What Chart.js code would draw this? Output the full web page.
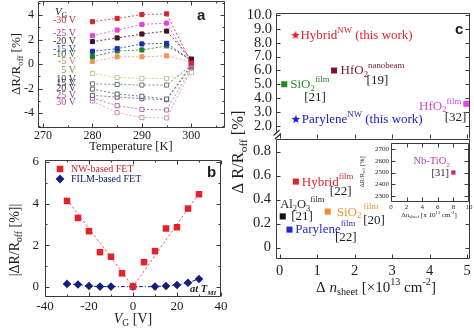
<!DOCTYPE html>
<html>
<head>
<meta charset="utf-8">
<script src="https://cdn.jsdelivr.net/npm/chart.js@4.4.1/dist/chart.umd.min.js"></script>
<style>
  html, body { margin: 0; padding: 0; background: #fff; }
  #wrap { position: relative; width: 474px; height: 333px; overflow: hidden; background: #fff; }
  canvas { position: absolute; }
</style>
</head>
<body>
<div id="wrap">
  <canvas id="ca" width="240" height="172" style="left:0px;top:-12px"></canvas>
  <canvas id="cb" width="240" height="188" style="left:0px;top:145px"></canvas>
  <canvas id="cu" width="244" height="153" style="left:230px;top:0px"></canvas>
  <canvas id="cl" width="244" height="333" style="left:230px;top:0px"></canvas>
  <canvas id="ci" width="124" height="95" style="left:350px;top:135px"></canvas>
</div>
<script>
'use strict';

// DATA

// panel a : dR/Roff [%] vs temperature, one list per gate voltage
const tempK = [280, 285, 290, 295, 300];
const gateNames = ['-30 V', '-25 V', '-20 V', '-15 V', '-10 V', '-5 V', '5 V', '10 V', '15 V', '20 V', '25 V', '30 V'];
const drM30 = [3.46, 3.73, 4.05, 4.10, 0.10];
const drM25 = [2.32, 2.78, 3.24, 3.35, 0.00];
const drM20 = [1.84, 2.14, 2.46, 2.70, 0.42];
const drM15 = [1.05, 1.27, 1.65, 1.70, 0.30];
const drM10 = [0.62, 1.08, 1.16, 1.49, 0.35];
const drM05 = [0.22, 0.60, 0.60, 0.68, 0.20];
const drP05 = [-0.76, -1.08, -1.16, -1.16, -0.68];
const drP10 = [-1.60, -1.65, -1.70, -1.70, -0.10];
const drP15 = [-2.03, -2.43, -2.62, -2.84, -0.05];
const drP20 = [-2.54, -2.68, -2.81, -2.89, -0.20];
const drP25 = [-2.76, -3.38, -3.68, -3.73, -0.30];
const drP30 = [-3.00, -3.95, -4.35, -4.38, -0.45];
const aXTicks = [270, 280, 290, 300];
const aYTicks = [-4, -2, 0, 2, 4];

// panel b : |dR/Roff| vs gate voltage
const vgB = [-30, -25, -20, -15, -10, -5, 0, 5, 10, 15, 20, 25, 30];
const nwFet = [4.13, 3.31, 2.67, 1.66, 1.44, 0.64, 0, 1.18, 1.71, 2.80, 2.86, 3.76, 4.45];
const filmFet = [0.13, 0.10, 0.03, 0, 0, null, 0, null, 0, 0.03, 0.08, 0.19, 0.37];
const nwFitX = [-30, 0, 30];
const nwFitY = [4.2, 0, 4.5];
const bXTicks = [-40, -20, 0, 20, 40];
const bYTicks = [0, 2, 4, 6];

// panel c : dR/Roff vs delta n_sheet (broken y axis + inset)
const upperNames = ['Hybrid NW', 'HfO2 nanobeam', 'SiO2 film', 'HfO2 film', 'Parylene NW'];
const upperDn = [0.42, 1.45, 0.12, 4.98, 0.43];
const upperDr = [8.56, 6.0, 5.0, 3.6, 2.5];
const lowerNames = ['Hybrid film', 'Al2O3 film', 'SiO2 film', 'Parylene film'];
const lowerDn = [0.43, 0.08, 1.28, 0.26];
const lowerDr = [0.55, 0.26, 0.30, 0.15];
const insetNames = ['Nb-TiO2'];
const insetDn = [8.0];
const insetDr = [2500];
const cXTicks = [0, 1, 2, 3, 4, 5];
const cUpperTicks = [2, 3, 4, 5, 6, 7, 8, 9, 10];
const cLowerTicks = [0, 0.2, 0.4, 0.6, 0.8];
const insetXTicks = [0, 2, 4, 6, 8, 10];
const insetYTicks = [2300, 2400, 2500, 2600, 2700];

// STYLE

const SERIF = '"Liberation Serif", "Times New Roman", serif';
const SANS = '"Liberation Sans", Arial, sans-serif';
const INK = '#1e1e1e';

const colorsA = ['#d8262c', '#e244dc', '#3e1426', '#1c2cb4', '#217c26', '#f2945e',
                 '#c9c48c', '#707070', '#586274', '#6c5272', '#aa6aaa', '#d48cc2'];
const labelColorsA = ['#b83048', '#a8348e', '#4a1c30', '#24349a', '#2e7e2e', '#d07450',
                      '#8a8640', '#444444', '#30386c', '#54345e', '#8a4a8a', '#b4489a'];
// where the gate labels of panel a sit (data units)
const gateLabelX = 276.7;
const gateLabelY = [3.55, 2.55, 1.84, 1.24, 0.76, 0.27, -0.52, -1.2, -1.6, -2.0, -2.58, -3.15];

const red = '#e3222a';
const navy = '#12207c';

function makeStar(color, r) {
  const c = document.createElement('canvas');
  const s = Math.ceil(r * 2) + 2;
  c.width = s; c.height = s;
  const g = c.getContext('2d');
  g.fillStyle = color;
  g.beginPath();
  for (let i = 0; i < 10; i++) {
    const ang = -Math.PI / 2 + i * Math.PI / 5;
    const rad = i % 2 ? r * 0.42 : r;
    const px = s / 2 + Math.cos(ang) * rad, py = s / 2 + 0.4 + Math.sin(ang) * rad;
    if (i === 0) g.moveTo(px, py); else g.lineTo(px, py);
  }
  g.closePath();
  g.fill();
  return c;
}

// text with sub/superscripts. flags: i italic, b bold, _ sub, ^ sup, S sans
function drawRich(ctx, parts, x, y, size, align, color) {
  const fontOf = f => {
    const small = f.includes('_') || f.includes('^');
    const s = small ? size * 0.68 : size;
    return (f.includes('i') ? 'italic ' : '') + (f.includes('b') ? 'bold ' : '') +
      s.toFixed(2) + 'px ' + (f.includes('S') ? SANS : SERIF);
  };
  let w = 0;
  for (const [t, f] of parts) { ctx.font = fontOf(f); w += ctx.measureText(t).width; }
  let cx = align === 'center' ? x - w / 2 : align === 'right' ? x - w : x;
  ctx.fillStyle = color;
  ctx.textAlign = 'left';
  ctx.textBaseline = 'middle';
  for (const [t, f] of parts) {
    ctx.font = fontOf(f);
    const dy = f.includes('_') ? size * 0.3 : f.includes('^') ? -size * 0.38 : 0;
    ctx.fillText(t, cx, y + dy);
    cx += ctx.measureText(t).width;
  }
}

function minorOf(arr) {
  const step = arr[1] - arr[0];
  const out = [arr[0] - step / 2];
  for (let i = 0; i < arr.length; i++) out.push(arr[i] + step / 2);
  return out;
}

function drawTicks(ctx, scale, vals, len, a, sides, isX) {
  for (const v of vals) {
    if (v < scale.min - 1e-9 || v > scale.max + 1e-9) continue;
    const p = Math.round(scale.getPixelForValue(v)) + 0.5;
    if (isX) {
      if (sides.includes('b')) { ctx.moveTo(p, a.bottom); ctx.lineTo(p, a.bottom - len); }
      if (sides.includes('t')) { ctx.moveTo(p, a.top); ctx.lineTo(p, a.top + len); }
    } else {
      if (sides.includes('l')) { ctx.moveTo(a.left, p); ctx.lineTo(a.left + len, p); }
      if (sides.includes('r')) { ctx.moveTo(a.right, p); ctx.lineTo(a.right - len, p); }
    }
  }
}

// frame, inward ticks, titles and labels for one chart
function deco(cfg) {
  return {
    id: 'deco',
    beforeDatasetsDraw(chart) {
      if (!cfg.whiteFill) return;
      const a = chart.chartArea, ctx = chart.ctx;
      ctx.save();
      ctx.fillStyle = '#fff';
      ctx.fillRect(a.left, a.top, a.right - a.left, a.bottom - a.top);
      ctx.restore();
    },
    afterDraw(chart) {
      const ctx = chart.ctx;
      const ca = chart.chartArea;
      const a = {
        left: Math.round(ca.left) + 0.5, right: Math.round(ca.right) - 0.5,
        top: Math.round(ca.top) + 0.5, bottom: Math.round(ca.bottom) - 0.5
      };
      const sx = chart.scales.x, sy = chart.scales.y;
      ctx.save();
      ctx.strokeStyle = '#3a3a3a';
      ctx.lineWidth = 1;
      ctx.beginPath();
      const sides = cfg.sides;
      const leftEnd = cfg.breakMark ? a.bottom - 7 : a.bottom;
      if (sides.includes('t')) { ctx.moveTo(a.left, a.top); ctx.lineTo(a.right, a.top); }
      if (sides.includes('b')) { ctx.moveTo(a.left, a.bottom); ctx.lineTo(a.right, a.bottom); }
      if (sides.includes('l')) { ctx.moveTo(a.left, a.top); ctx.lineTo(a.left, leftEnd); }
      if (sides.includes('r')) { ctx.moveTo(a.right, a.top); ctx.lineTo(a.right, a.bottom); }
      const t = cfg.ticks;
      drawTicks(ctx, sx, t.x, 4, a, t.xSides, true);
      drawTicks(ctx, sy, t.y, 4, a, t.ySides, false);
      if (t.xMinor) drawTicks(ctx, sx, minorOf(t.x), 2, a, t.xSides, true);
      if (t.yMinor) drawTicks(ctx, sy, minorOf(t.y), 2, a, t.ySides, false);
      ctx.stroke();
      if (cfg.breakMark) {
        ctx.beginPath();
        ctx.strokeStyle = '#222';
        ctx.lineWidth = 1.1;
        ctx.moveTo(a.left - 3, a.bottom - 3); ctx.lineTo(a.left + 3, a.bottom - 8.5);
        ctx.moveTo(a.left - 1.5, a.bottom + 0.5); ctx.lineTo(a.left + 4.5, a.bottom - 5);
        ctx.stroke();
      }

      (cfg.legend || []).forEach(l => {
        const x = l.x - cfg.ox, y = l.y - cfg.oy;
        ctx.fillStyle = l.color;
        ctx.beginPath();
        if (l.shape === 'rect') ctx.rect(x - 3.3, y - 3.3, 6.6, 6.6);
        else { ctx.moveTo(x, y - 4.4); ctx.lineTo(x + 4.4, y); ctx.lineTo(x, y + 4.4); ctx.lineTo(x - 4.4, y); ctx.closePath(); }
        ctx.fill();
      });

      (cfg.texts || []).forEach(tx => {
        const x = tx.x - cfg.ox, y = tx.y - cfg.oy;
        ctx.save();
        if (tx.rot) {
          ctx.translate(x, y);
          ctx.rotate(-Math.PI / 2);
          drawRich(ctx, tx.p, 0, 0, tx.size, 'center', tx.color || INK);
        } else {
          drawRich(ctx, tx.p, x, y, tx.size, tx.align || 'left', tx.color || INK);
        }
        ctx.restore();
      });

      (cfg.valTexts || []).forEach(tx => {
        drawRich(ctx, tx.p, sx.getPixelForValue(tx.vx), sy.getPixelForValue(tx.vy), tx.size, tx.align || 'left', tx.color || INK);
      });

      (cfg.pointTexts || []).forEach(tx => {
        const el = chart.getDatasetMeta(tx.ds).data[tx.i];
        drawRich(ctx, tx.p, el.x + tx.dx, el.y + tx.dy, tx.size, tx.align || 'left', tx.color || INK);
      });
      ctx.restore();
    }
  };
}

function axis(min, max, ticksArr, fmt, size, pad, fit, isX, showLabels) {
  return {
    type: 'linear',
    min: min,
    max: max,
    grid: { display: false, drawTicks: false },
    border: { display: false },
    ticks: {
      display: showLabels !== false,
      font: { family: SERIF, size: size },
      color: INK,
      padding: pad,
      maxRotation: 0,
      autoSkip: false,
      callback: v => fmt(v)
    },
    afterBuildTicks: s => { s.ticks = ticksArr.map(v => ({ value: v })); },
    afterFit: s => { if (isX) s.height = fit; else s.width = fit; }
  };
}

function makeChart(id, datasets, xAxis, yAxis, padding, cfg) {
  return new Chart(document.getElementById(id), {
    type: 'scatter',
    data: { datasets: datasets },
    options: {
      responsive: false,
      animation: false,
      devicePixelRatio: 1,
      events: [],
      layout: { padding: padding },
      plugins: { legend: { display: false }, tooltip: { enabled: false } },
      scales: { x: xAxis, y: yAxis }
    },
    plugins: [deco(cfg)]
  });
}

const asText = v => String(v);

// PANEL A
const seriesA = [drM30, drM25, drM20, drM15, drM10, drM05, drP05, drP10, drP15, drP20, drP25, drP30];
const dsA = seriesA.map((s, i) => ({
  label: gateNames[i],
  data: tempK.map((t, j) => ({ x: t, y: s[j] })),
  showLine: true,
  borderColor: colorsA[i],
  borderWidth: 0.8,
  borderDash: [2, 2],
  pointStyle: 'rect',
  pointRadius: 2.9,
  pointBorderWidth: 1,
  pointBackgroundColor: i < 6 ? colorsA[i] : '#ffffff',
  pointBorderColor: colorsA[i],
  clip: false
}));

makeChart('ca', dsA,
  axis(269, 306.8, aXTicks, asText, 12, 1, 32, true),
  axis(-5.2, 5.15, aYTicks, asText, 12, 4, 38, false),
  { top: 13, right: 15, left: 0, bottom: 0 },
  {
    ox: 0, oy: -12, sides: 'tblr',
    ticks: { x: aXTicks, y: aYTicks, xSides: 'bt', ySides: 'lr', xMinor: true, yMinor: true },
    texts: [
      { p: [['\u0394R/R', ''], ['off', '_'], [' [%]', '']], x: 17, y: 64, size: 13, rot: true },
      { p: [['Temperature [K]', '']], x: 131, y: 147, size: 12.5, align: 'center' },
      { p: [['a', 'bS']], x: 197, y: 16, size: 15 },
      { p: [['V', 'i'], ['G', '_']], x: 55, y: 12.5, size: 11 }
    ],
    valTexts: gateNames.map((g, i) => ({
      p: [[g, '']], vx: gateLabelX, vy: gateLabelY[i], size: 10, align: 'right', color: labelColorsA[i]
    }))
  });

// PANEL B
const dsB = [
  {
    label: 'NW-based FET',
    data: vgB.map((v, i) => ({ x: v, y: nwFet[i] })),
    pointStyle: 'rect', pointRadius: 4.6, pointBorderWidth: 0,
    pointBackgroundColor: red, showLine: false, clip: false
  },
  {
    label: 'FILM-based FET',
    data: vgB.map((v, i) => ({ x: v, y: filmFet[i] })),
    pointStyle: 'rectRot', pointRadius: 4.3, pointBorderWidth: 0,
    pointBackgroundColor: navy, showLine: true, spanGaps: true,
    borderColor: navy, borderWidth: 1, borderDash: [4, 2, 1, 2], clip: false
  },
  {
    label: 'NW fit',
    data: nwFitX.map((v, i) => ({ x: v, y: nwFitY[i] })),
    pointRadius: 0, showLine: true, borderColor: '#e05050', borderWidth: 0.9, borderDash: [2.5, 2], clip: false
  }
];

makeChart('cb', dsB,
  axis(-40, 40, bXTicks, asText, 13, 2, 36, true),
  axis(-0.5, 6.1, bYTicks, asText, 13, 6, 45, false),
  { top: 15, right: 19, left: 0, bottom: 0 },
  {
    ox: 0, oy: 145, sides: 'tblr',
    ticks: { x: bXTicks, y: bYTicks, xSides: 'bt', ySides: 'lr', xMinor: true, yMinor: true },
    legend: [
      { shape: 'rect', color: red, x: 60, y: 169 },
      { shape: 'diamond', color: navy, x: 60, y: 179 }
    ],
    texts: [
      { p: [['|\u0394R/R', ''], ['off', '_'], [' [%]|', '']], x: 15, y: 240, size: 14, rot: true },
      { p: [['V', 'i'], ['G', '_'], [' [V]', '']], x: 133, y: 319, size: 14, align: 'center' },
      { p: [['b', 'bS']], x: 207, y: 173, size: 15 },
      { p: [['at ', 'bi'], ['T', 'bi'], ['MI', 'bi_']], x: 190, y: 289.5, size: 10.5 },
      { p: [[dsB[0].label, '']], x: 71, y: 169.5, size: 10, color: '#c02a2a' },
      { p: [[dsB[1].label, '']], x: 71, y: 179.5, size: 10, color: navy }
    ]
  });

// PANEL C (upper part)
const starRed = makeStar(red, 4.6);
const starBlue = makeStar('#1c1cd6', 4.6);
const upperColors = [red, '#7a1632', '#1e8c1e', '#e244e2', '#1c1cd6'];

makeChart('cu', [{
    label: 'upper',
    data: upperDn.map((v, i) => ({ x: v, y: upperDr[i] })),
    pointStyle: [starRed, 'rect', 'rect', 'rect', starBlue],
    pointRadius: 4.3, pointBorderWidth: 0,
    pointBackgroundColor: upperColors, showLine: false, clip: 0
  }],
  axis(-0.1, 5.07, cXTicks, asText, 14.5, 3, 14, true, false),
  axis(1.06, 10.14, cUpperTicks, v => v.toFixed(1), 14.5, 4, 46, false),
  { top: 13, right: 4, left: 0, bottom: 0 },
  {
    ox: 230, oy: 0, sides: 'tlr', breakMark: true,
    ticks: { x: cXTicks, y: cUpperTicks, xSides: 'b', ySides: 'lr' },
    texts: [
      { p: [['c', 'bS']], x: 455, y: 29.5, size: 15 }
    ],
    pointTexts: [
      { ds: 0, i: 0, p: [['Hybrid', ''], ['NW', '^'], [' (this work)', '']], dx: 5, dy: 0.5, size: 13, color: red },
      { ds: 0, i: 1, p: [['HfO', ''], ['2', '_'], ['nanobeam', '^']], dx: 6.5, dy: 0.5, size: 13, color: '#7a1632' },
      { ds: 0, i: 1, p: [['[19]', '']], dx: 32.5, dy: 10, size: 13 },
      { ds: 0, i: 2, p: [['SiO', ''], ['2', '_'], ['film', '^']], dx: 6, dy: 0.5, size: 13, color: '#2a8a2a' },
      { ds: 0, i: 2, p: [['[21]', '']], dx: 20, dy: 13, size: 13 },
      { ds: 0, i: 3, p: [['HfO', ''], ['2', '_'], ['film', '^']], dx: -5, dy: 2.5, size: 13, align: 'right', color: '#d644d6' },
      { ds: 0, i: 3, p: [['[32]', '']], dx: 0, dy: 13.5, size: 13, align: 'right' },
      { ds: 0, i: 4, p: [['Parylene', ''], ['NW', '^'], [' (this work)', '']], dx: 6, dy: 0.5, size: 13, color: '#2020c8' }
    ]
  });

// PANEL C (lower part)
const lowerColors = [red, '#111111', '#f28c2a', '#1c2ae6'];

makeChart('cl', [{
    label: 'lower',
    data: lowerDn.map((v, i) => ({ x: v, y: lowerDr[i] })),
    pointStyle: 'rect', pointRadius: 4.3, pointBorderWidth: 0,
    pointBackgroundColor: lowerColors, showLine: false, clip: false
  }],
  axis(-0.1, 5.07, cXTicks, asText, 14.5, 3, 74, true),
  axis(-0.095, 0.905, cLowerTicks, v => (v === 0 ? '0' : v.toFixed(1)), 14.5, 5, 46, false),
  { top: 139, right: 4, left: 0, bottom: 0 },
  {
    ox: 230, oy: 0, sides: 'tblr',
    ticks: { x: cXTicks, y: cLowerTicks, xSides: 'b', ySides: 'lr' },
    texts: [
      { p: [['\u0394 R/R', ''], ['off', '_'], [' [%]', '']], x: 239, y: 152, size: 16.5, rot: true },
      { p: [['\u0394 ', ''], ['n', 'i'], ['sheet', '_'], [' [\u00d710', ''], ['13', '^'], [' cm', ''], ['-2', '^'], [']', '']],
        x: 376, y: 288, size: 15, align: 'center' }
    ],
    pointTexts: [
      { ds: 0, i: 0, p: [['Hybrid', ''], ['film', '^']], dx: 6, dy: 0.5, size: 13, color: '#d82a30' },
      { ds: 0, i: 0, p: [['[22]', '']], dx: 34, dy: 9.5, size: 13 },
      { ds: 0, i: 1, p: [['Al', ''], ['2', '_'], ['O', ''], ['3', '_'], ['film', '^']], dx: -2.5, dy: -11.5, size: 12.5 },
      { ds: 0, i: 1, p: [['[21]', '']], dx: 8.5, dy: 0.5, size: 13 },
      { ds: 0, i: 2, p: [['SiO', ''], ['2', '_'], [' film', '^']], dx: 9, dy: 0.5, size: 13, color: '#f0902e' },
      { ds: 0, i: 2, p: [['[20]', '']], dx: 35.5, dy: 8.5, size: 13 },
      { ds: 0, i: 3, p: [['Parylene', ''], ['film', '^']], dx: 5.7, dy: -0.5, size: 13, color: '#2a2ad8' },
      { ds: 0, i: 3, p: [['[22]', '']], dx: 45.5, dy: 7.5, size: 13 }
    ]
  });

// PANEL C (inset)
makeChart('ci', [{
    label: insetNames[0],
    data: insetDn.map((v, i) => ({ x: v, y: insetDr[i] })),
    pointStyle: 'rect', pointRadius: 3, pointBorderWidth: 0,
    pointBackgroundColor: '#d61e66', showLine: false, clip: false
  }],
  axis(0, 10, insetXTicks, asText, 7, 1, 28, true),
  axis(2250, 2750, insetYTicks, asText, 7, 2, 41, false),
  { top: 8, right: 5, left: 0, bottom: 0 },
  {
    ox: 350, oy: 135, sides: 'tblr', whiteFill: true,
    ticks: { x: insetXTicks, y: insetYTicks, xSides: 'bt', ySides: 'lr' },
    texts: [
      { p: [['\u0394R/R', ''], ['off', '_'], [' [%]', '']], x: 362, y: 172, size: 6.5, rot: true },
      { p: [['\u0394', ''], ['n', 'i'], ['sheet', '_'], [' [x 10', ''], ['13', '^'], [' cm', ''], ['-2', '^'], [']', '']],
        x: 429, y: 215, size: 7, align: 'center' }
    ],
    pointTexts: [
      { ds: 0, i: 0, p: [['Nb-TiO', ''], ['2', '_']], dx: -3.5, dy: -11, size: 10.5, align: 'right', color: '#c03aa8' },
      { ds: 0, i: 0, p: [['[31]', '']], dx: -4.5, dy: 1, size: 10.5, align: 'right' }
    ]
  });
</script>
</body>
</html>
